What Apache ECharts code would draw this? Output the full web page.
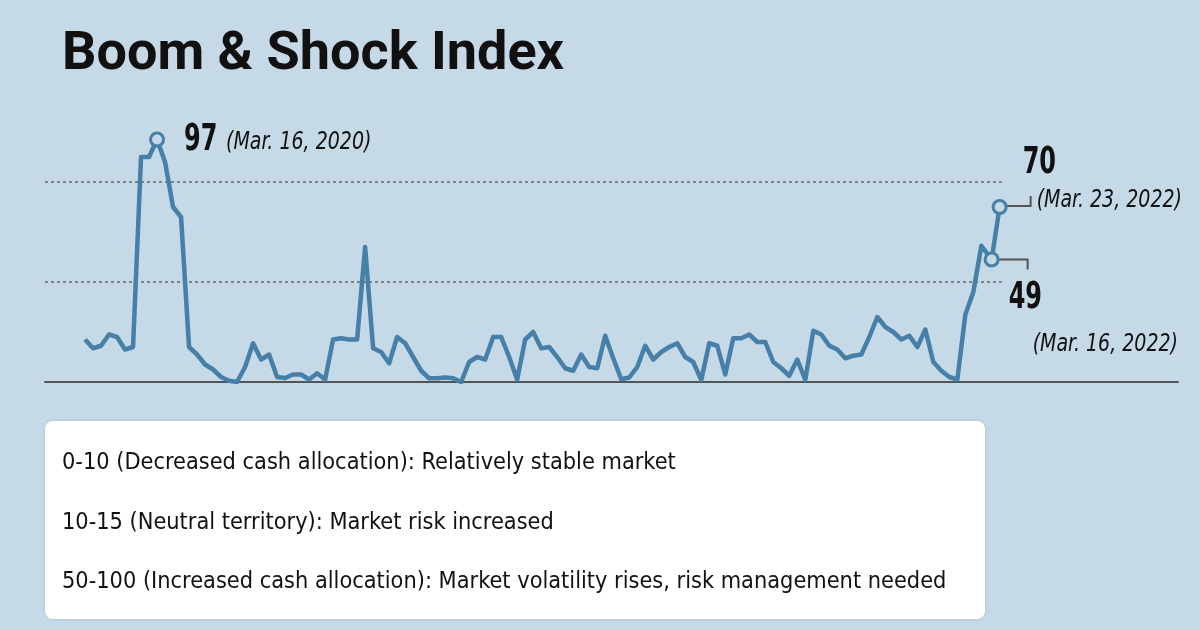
<!DOCTYPE html>
<html>
<head>
<meta charset="utf-8">
<title>Boom & Shock Index</title>
<script src="https://cdn.jsdelivr.net/npm/echarts@6/dist/echarts.min.js"></script>
<style>
  html, body { margin: 0; padding: 0; background: #c6d9e7; }
  #main { width: 1200px; height: 630px; }
</style>
</head>
<body>
<div id="main"></div>
<script>
// weekly readings (Mondays from 2020-01-13), then the two March 2022 points
const firstWeek = '2020-01-13'
const extraDates = ['2022-03-16', '2022-03-23']
const indexValues = [
  17, 13.5, 14.5, 19, 18, 13, 14, 90, 90, 97,
  88, 70, 66, 14, 11, 7, 5, 2, 0.5, 0,
  6, 15.5, 9, 11, 2, 1.6, 3, 3, 1, 3.5,
  1, 17, 17.5, 17, 17, 54, 13.5, 12, 7.5, 18,
  15.5, 10, 4.5, 1.5, 1.5, 1.8, 1.5, 0, 8, 10,
  9, 18, 18, 10, 1, 17, 20, 13.5, 14, 10,
  5.5, 4.5, 11, 6, 5.5, 18.5, 9.5, 1.1, 1.8, 6,
  14.5, 9, 12, 14, 15.5, 10, 8, 0.8, 15.5, 14.5,
  3, 17.5, 17.5, 19, 16, 16, 8, 5.5, 2.5, 9,
  0.8, 20.5, 19, 14.5, 13, 9.5, 10.5, 11, 18, 26,
  22, 20, 17, 18.5, 14, 21, 8, 4.5, 2, 1,
  27, 36, 54.5,
  49, 70
]
const guideLevels = [40, 80]
const callouts = [
  { date: '2020-03-16', value: 97, label: '97', note: '(Mar. 16, 2020)' },
  { date: '2022-03-23', value: 70, label: '70', note: '(Mar. 23, 2022)' },
  { date: '2022-03-16', value: 49, label: '49', note: '(Mar. 16, 2022)' }
]
const legendLines = [
  '0-10 (Decreased cash allocation): Relatively stable market',
  '10-15 (Neutral territory): Market risk increased',
  '50-100 (Increased cash allocation): Market volatility rises, risk management needed'
]

const BG = '#c6d9e7'
const LINE = '#467fa7'
const NARROW = "'Liberation Sans Narrow', 'DejaVu Sans Condensed', 'Roboto', sans-serif"

function fmt (d) {
  const m = String(d.getMonth() + 1).padStart(2, '0')
  const day = String(d.getDate()).padStart(2, '0')
  return d.getFullYear() + '-' + m + '-' + day
}

const dates = []
const weeklyCount = indexValues.length - extraDates.length
const start = new Date(firstWeek + 'T00:00:00')
for (let i = 0; i < weeklyCount; i++) {
  dates.push(fmt(new Date(start.getFullYear(), start.getMonth(), start.getDate() + i * 7)))
}
extraDates.forEach(d => dates.push(d))

const seriesData = dates.map((d, i) => {
  if (callouts.some(c => c.date === d && c.value === indexValues[i])) {
    return {
      value: [d, indexValues[i]],
      symbol: 'circle',
      symbolSize: 13,
      itemStyle: { color: BG, borderColor: LINE, borderWidth: 3 }
    }
  }
  return { value: [d, indexValues[i]], symbol: 'none' }
})

const option = {
  backgroundColor: BG,
  animation: false,
  grid: { left: 45, right: 22, top: 132, bottom: 248 },
  xAxis: {
    type: 'time',
    min: '2019-12-09',
    max: '2022-08-26',
    axisLine: { lineStyle: { color: '#555', width: 2 } },
    axisTick: { show: false },
    axisLabel: { show: false },
    splitLine: { show: false }
  },
  yAxis: {
    type: 'value',
    min: 0,
    max: 100,
    show: false,
    splitLine: { show: false }
  },
  series: [
    {
      type: 'line',
      data: seriesData,
      showAllSymbol: true,
      z: 5,
      lineStyle: { color: LINE, width: 4.5, join: 'round' },
      itemStyle: { color: LINE },
      markLine: {
        silent: true,
        symbol: 'none',
        label: { show: false },
        lineStyle: { color: '#666', type: [3, 3], width: 1.5 },
        data: guideLevels.map(v => [
          { coord: ['2019-12-09', v] },
          { coord: ['2022-03-25', v] }
        ])
      }
    }
  ]
}

const chart = echarts.init(document.getElementById('main'))
chart.setOption(option)

// annotations placed from the data through the chart's own scales
const px = c => chart.convertToPixel({ gridIndex: 0 }, [c.date, c.value])
const [p97, p70, p49] = callouts.map(px)
const dark = '#111'
// condensed look: squeeze the text horizontally around its left anchor
const bigText = (x, y, text) => ({
  type: 'text', x, y, scaleX: 0.72,
  style: { text, font: 'bold 37px ' + NARROW, fill: dark, verticalAlign: 'middle' }
})
const noteText = (x, y, text) => ({
  type: 'text', x, y, scaleX: 0.88,
  style: { text, font: 'italic 24px ' + NARROW, fill: dark, verticalAlign: 'middle' }
})
const leader = pts => ({
  type: 'polyline', shape: { points: pts }, style: { stroke: '#555', lineWidth: 2, fill: null }
})

const graphics = [
  {
    type: 'text', left: 62, top: 28,
    style: { text: 'Boom & Shock Index', font: 'bold 54px Roboto, sans-serif', fill: dark }
  },
  bigText(p97[0] + 27, p97[1] + 1, callouts[0].label),
  noteText(p97[0] + 69, p97[1] + 3, callouts[0].note),

  leader([[p70[0] + 7, p70[1] - 1], [p70[0] + 31, p70[1] - 1], [p70[0] + 31, p70[1] - 11]]),
  bigText(p70[0] + 23, p70[1] - 44, callouts[1].label),
  noteText(p70[0] + 37, p70[1] - 6, callouts[1].note),

  leader([[p49[0] + 7, p49[1]], [p49[0] + 36, p49[1]], [p49[0] + 36, p49[1] + 10]]),
  bigText(p49[0] + 17, p49[1] + 39, callouts[2].label),
  noteText(p49[0] + 41, p49[1] + 85, callouts[2].note),

  {
    type: 'rect', left: 45, top: 421,
    shape: { width: 940, height: 198, r: 8 },
    style: { fill: '#fff', shadowBlur: 4, shadowColor: 'rgba(0,0,0,0.12)' }
  }
]
legendLines.forEach((t, i) => {
  graphics.push({
    type: 'text', x: 62, y: 463 + i * 59.5,
    style: { text: t, font: '23.3px ' + NARROW, fill: dark, verticalAlign: 'middle' }
  })
})

chart.setOption({ graphic: graphics })
</script>
</body>
</html>
